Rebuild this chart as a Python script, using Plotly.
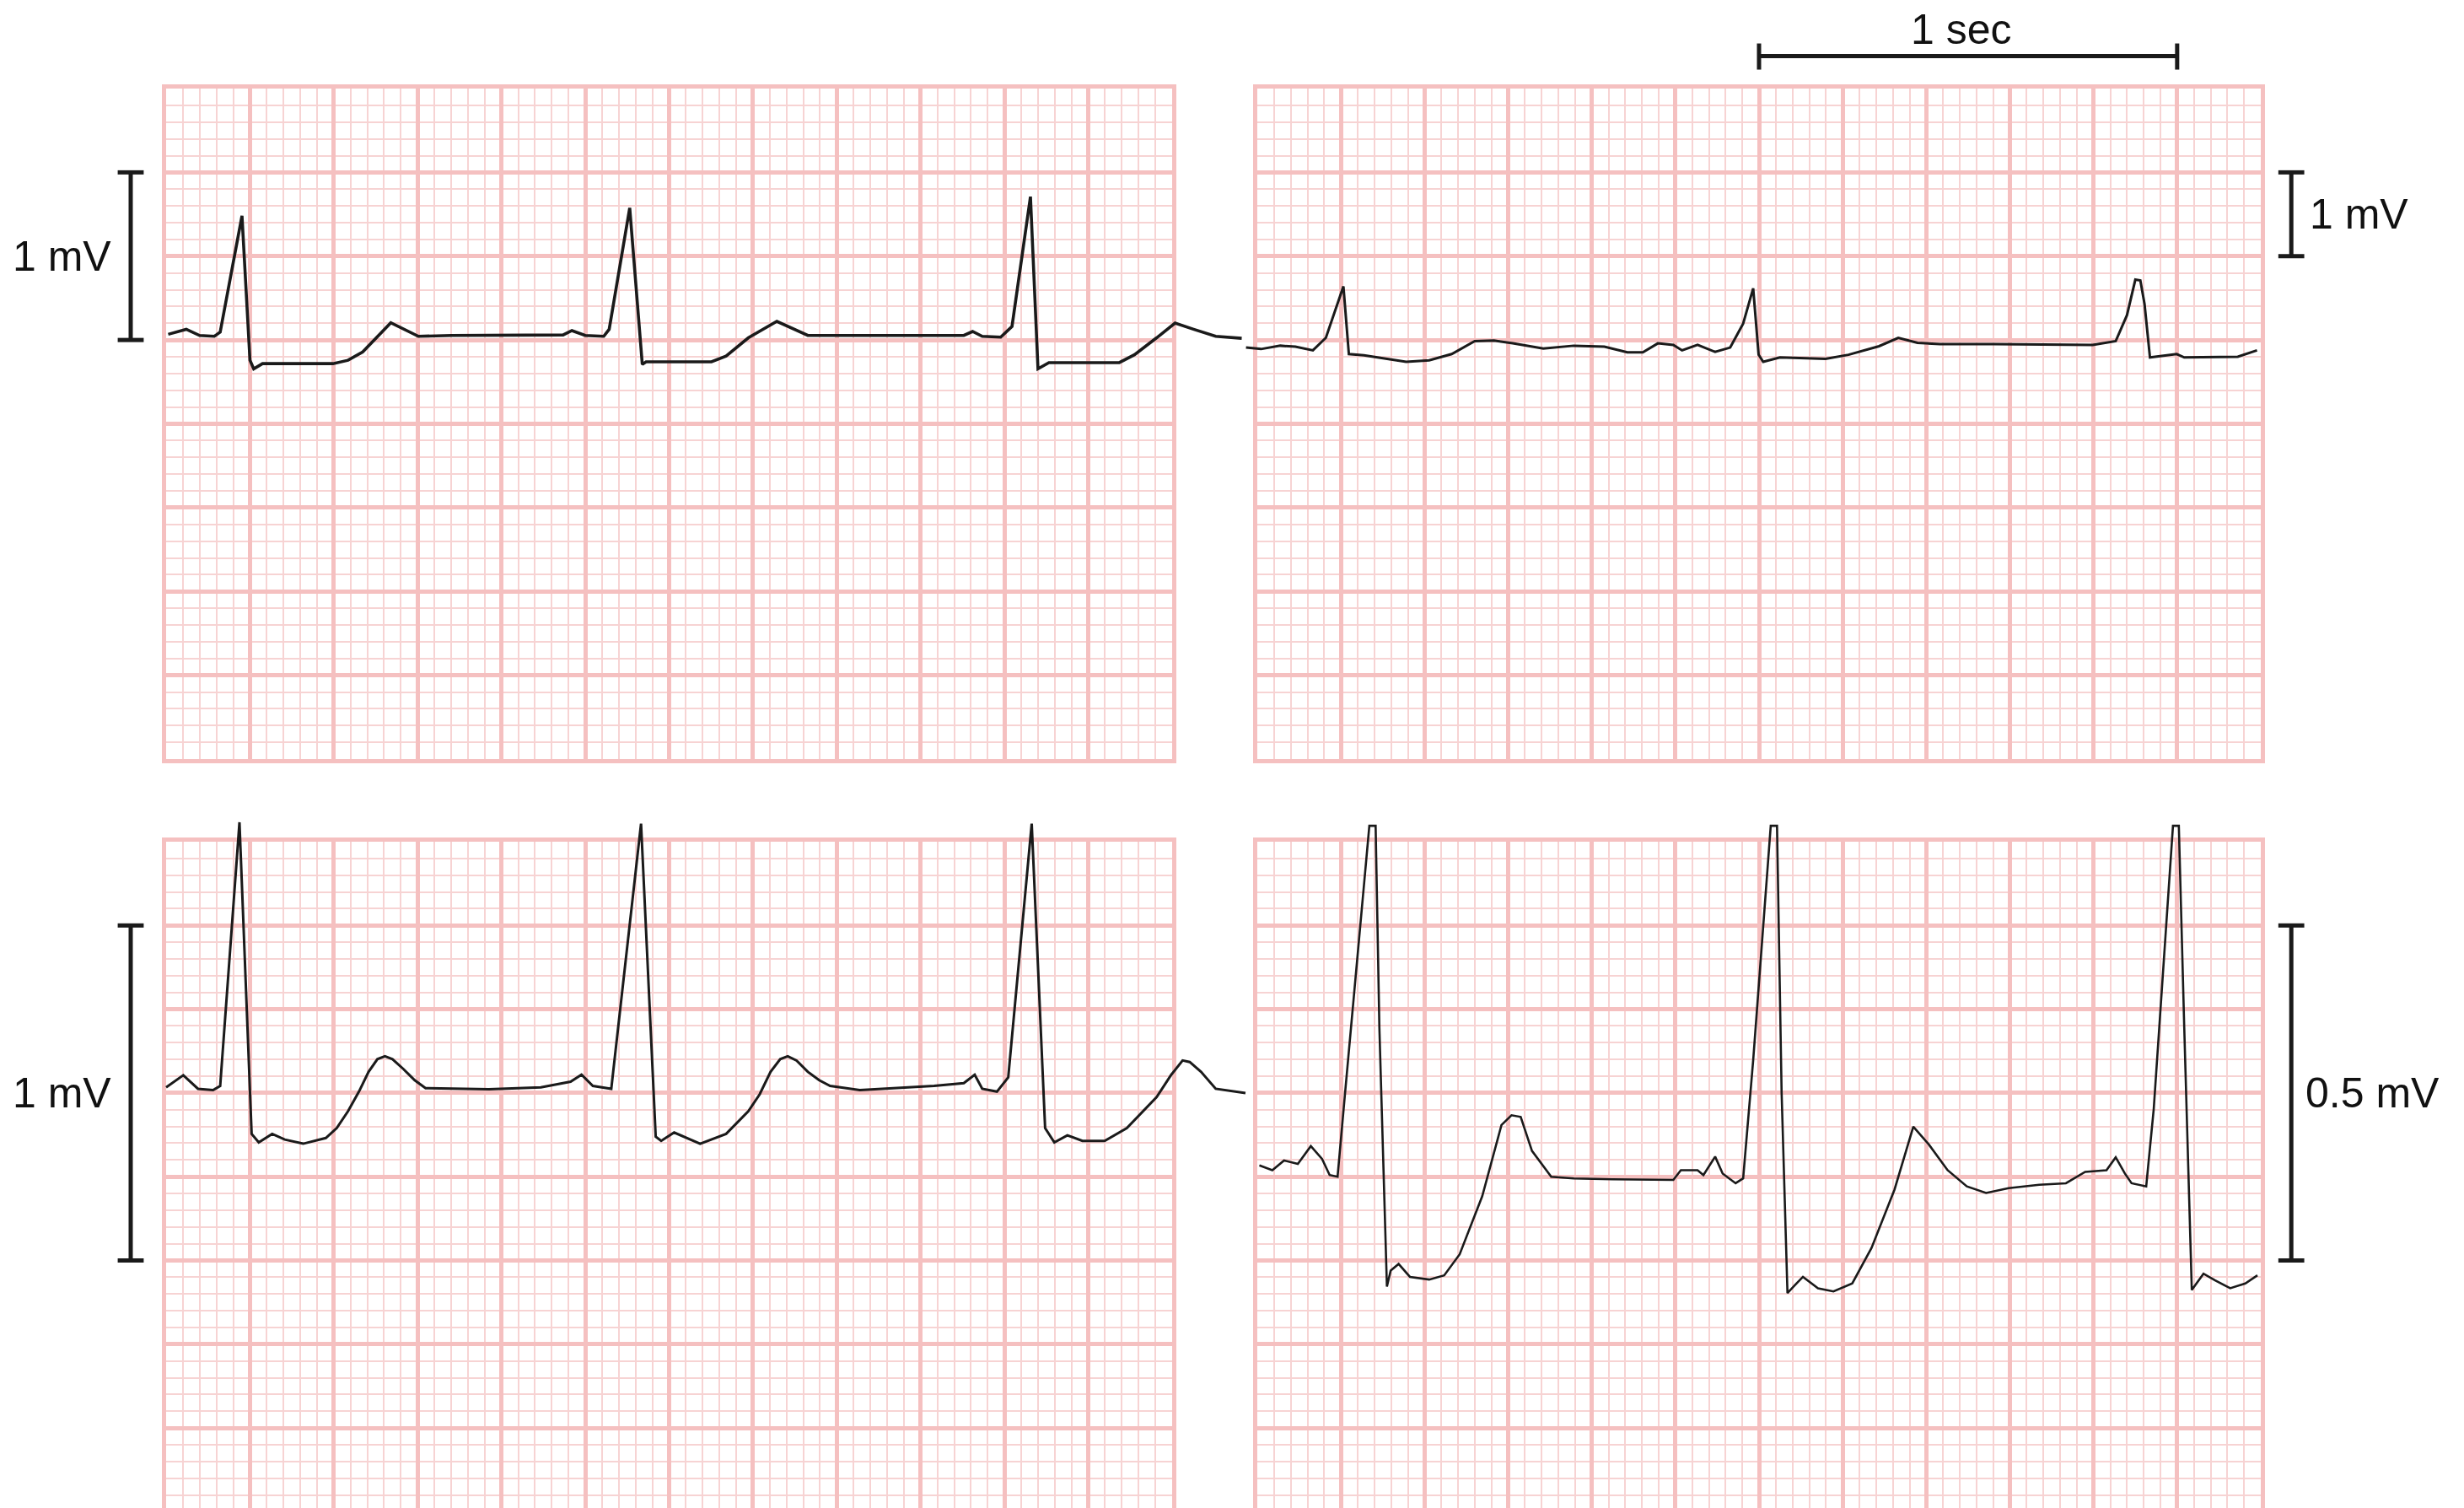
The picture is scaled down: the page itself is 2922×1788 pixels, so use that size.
import plotly.graph_objects as go

W, H = 2922, 1788
OFF = 8      # the page body margin shifts the plot div by this many pixels
SEC = 2.4    # seconds across one strip
MM = 40      # strip height in mm of paper

MAJOR = "#F5C0C0"
MINOR = "#F7D3D3"
INK = "#1a1a1a"
FONT = "Liberation Sans, Arial, sans-serif"

# strip edges in screen pixels: left, right, top, bottom
tl_box = (197, 1390, 105, 900)
tr_box = (1491, 2681, 105, 900)
bl_box = (197, 1390, 998, 1792.4)
br_box = (1491, 2681, 998, 1792.4)

# traces: time in seconds from strip start, deflection in mm from strip bottom
tl_t = [0.005, 0.048, 0.080, 0.115, 0.129, 0.181, 0.200, 0.209, 0.230, 0.398, 0.434, 0.469,
        0.536, 0.602, 0.681, 0.947, 0.968, 1.000, 1.044, 1.057, 1.106, 1.136, 1.145, 1.301,
        1.336, 1.389, 1.457, 1.531, 1.903, 1.924, 1.947, 1.991, 2.018, 2.062, 2.080, 2.106,
        2.274, 2.310, 2.363, 2.407, 2.451, 2.504, 2.566]
tl_mm = [25.34, 25.64, 25.27, 25.22, 25.47, 32.41, 23.79, 23.28, 23.59, 23.59, 23.79, 24.29,
         26.03, 25.22, 25.27, 25.30, 25.56, 25.27, 25.22, 25.64, 32.88, 23.54, 23.70, 23.70,
         24.04, 25.13, 26.11, 25.27, 25.27, 25.51, 25.22, 25.17, 25.81, 33.55, 23.28, 23.65,
         23.65, 24.12, 25.13, 26.01, 25.64, 25.22, 25.10]

tr_t = [-0.027, 0.009, 0.055, 0.091, 0.133, 0.164, 0.206, 0.219, 0.255, 0.301, 0.356, 0.411,
        0.465, 0.520, 0.566, 0.611, 0.684, 0.757, 0.830, 0.885, 0.922, 0.958, 0.995, 1.016,
        1.053, 1.095, 1.131, 1.162, 1.186, 1.199, 1.210, 1.250, 1.359, 1.414, 1.487, 1.533,
        1.579, 1.633, 1.761, 1.998, 2.053, 2.080, 2.100, 2.112, 2.122, 2.135, 2.181, 2.199,
        2.217, 2.345, 2.391]
tr_mm = [24.55, 24.46, 24.66, 24.60, 24.38, 25.13, 28.20, 24.16, 24.09, 23.92, 23.70, 23.79,
         24.16, 24.93, 24.97, 24.80, 24.49, 24.66, 24.60, 24.26, 24.26, 24.80, 24.71, 24.38,
         24.71, 24.29, 24.55, 25.98, 28.08, 24.12, 23.70, 23.96, 23.87, 24.12, 24.63, 25.13,
         24.83, 24.76, 24.76, 24.71, 24.93, 26.48, 28.60, 28.55, 27.15, 23.96, 24.09, 24.16,
         23.96, 24.00, 24.38]

bl_t = [0.000, 0.041, 0.076, 0.112, 0.129, 0.175, 0.204, 0.221, 0.253, 0.283, 0.327, 0.381,
        0.407, 0.434, 0.460, 0.483, 0.504, 0.522, 0.540, 0.566, 0.593, 0.619, 0.770, 0.894,
        0.965, 0.991, 1.018, 1.062, 1.133, 1.168, 1.181, 1.212, 1.274, 1.336, 1.389, 1.416,
        1.442, 1.465, 1.483, 1.504, 1.531, 1.558, 1.584, 1.655, 1.832, 1.903, 1.929, 1.947,
        1.982, 2.009, 2.065, 2.097, 2.119, 2.150, 2.186, 2.239, 2.292, 2.363, 2.398, 2.425,
        2.442, 2.469, 2.504, 2.575]
bl_mm = [25.34, 26.06, 25.25, 25.17, 25.42, 41.16, 22.56, 22.05, 22.56, 22.22, 21.97, 22.31,
         22.90, 23.91, 25.08, 26.26, 27.02, 27.19, 27.02, 26.43, 25.76, 25.29, 25.22, 25.34,
         25.67, 26.09, 25.42, 25.25, 41.08, 22.39, 22.14, 22.64, 21.97, 22.56, 23.91, 24.92,
         26.26, 27.02, 27.19, 26.94, 26.26, 25.76, 25.42, 25.17, 25.42, 25.59, 26.09, 25.25,
         25.08, 25.93, 41.08, 22.90, 22.05, 22.47, 22.14, 22.14, 22.90, 24.75, 26.09, 26.94,
         26.85, 26.26, 25.25, 25.00]

br_t = [0.005, 0.036, 0.064, 0.097, 0.128, 0.155, 0.173, 0.192, 0.210, 0.268, 0.283, 0.292,
        0.310, 0.319, 0.338, 0.365, 0.411, 0.447, 0.484, 0.538, 0.584, 0.608, 0.630, 0.657,
        0.703, 0.757, 0.849, 0.995, 1.013, 1.053, 1.067, 1.095, 1.113, 1.144, 1.162, 1.186,
        1.228, 1.243, 1.254, 1.268, 1.286, 1.305, 1.341, 1.378, 1.423, 1.469, 1.524, 1.569,
        1.606, 1.651, 1.697, 1.743, 1.797, 1.870, 1.934, 1.980, 2.031, 2.053, 2.075, 2.091,
        2.126, 2.144, 2.190, 2.204, 2.217, 2.235, 2.263, 2.290, 2.327, 2.363, 2.392]
br_mm = [20.68, 20.39, 20.97, 20.77, 21.83, 21.06, 20.10, 20.00, 25.02, 40.95, 40.95, 28.88,
         13.44, 14.40, 14.79, 14.02, 13.86, 14.11, 15.37, 18.84, 23.09, 23.67, 23.57, 21.54,
         20.00, 19.90, 19.85, 19.81, 20.39, 20.39, 20.10, 21.20, 20.19, 19.61, 19.90, 26.95,
         40.95, 40.95, 25.02, 13.05, 13.53, 14.02, 13.34, 13.15, 13.63, 15.75, 19.23, 22.99,
         21.93, 20.39, 19.42, 19.03, 19.32, 19.52, 19.61, 20.29, 20.39, 21.16, 20.19, 19.61,
         19.42, 24.05, 40.95, 40.95, 28.88, 13.24, 14.21, 13.82, 13.34, 13.63, 14.11]

fig = go.Figure()
layout = {}


def sid(n):
    return "" if n == 1 else str(n)


def add_strip(i, box, t, mm, lw, top_border=True):
    x0, x1, y0, y1 = [v - OFF for v in box]
    ppx = (x1 - x0) / SEC
    ppy = (y1 - y0) / MM
    yb = min(y1, H)
    # grid paper
    layout["xaxis" + sid(i)] = dict(
        domain=[x0 / W, x1 / W], range=[0, SEC], anchor="y" + sid(i),
        tick0=0, dtick=0.2, showgrid=True, gridcolor=MAJOR, gridwidth=5,
        minor=dict(tick0=0, dtick=0.04, showgrid=True, gridcolor=MINOR, gridwidth=2),
        showticklabels=False, ticks="", zeroline=False,
        showline=True, linecolor=MAJOR, linewidth=5, mirror=top_border,
        side="bottom" if top_border else "top")
    layout["yaxis" + sid(i)] = dict(
        domain=[1 - yb / H, 1 - y0 / H], range=[MM - (yb - y0) / ppy, MM],
        anchor="x" + sid(i), tick0=0, dtick=5, showgrid=True, gridcolor=MAJOR, gridwidth=5,
        minor=dict(tick0=0, dtick=1, showgrid=True, gridcolor=MINOR, gridwidth=2),
        showticklabels=False, ticks="", zeroline=False,
        showline=True, linecolor=MAJOR, linewidth=5, mirror=True)
    # empty trace so the paper subplot is always built
    fig.add_trace(go.Scatter(x=[None], y=[None], mode="lines", xaxis="x" + sid(i),
                             yaxis="y" + sid(i), hoverinfo="skip"))
    # trace axes span the whole picture so spikes are not clipped at the strip edge
    j = i + 4
    layout[f"xaxis{j}"] = dict(domain=[0, 1], range=[-x0 / ppx, (W - x0) / ppx],
                               anchor=f"y{j}", visible=False)
    layout[f"yaxis{j}"] = dict(domain=[0, 1], range=[MM - (H - y0) / ppy, MM + y0 / ppy],
                               anchor=f"x{j}", visible=False)
    fig.add_trace(go.Scatter(x=t, y=mm, mode="lines", xaxis=f"x{j}", yaxis=f"y{j}",
                             line=dict(color=INK, width=lw), hoverinfo="skip"))
    return j


def cal_bar(j, x, ya, yb, half=0.031):
    ref = dict(xref=f"x{j}", yref=f"y{j}", line=dict(color=INK, width=5))
    fig.add_shape(type="line", x0=x, x1=x, y0=ya, y1=yb, **ref)
    for y in (ya, yb):
        fig.add_shape(type="line", x0=x - half, x1=x + half, y0=y, y1=y, **ref)


def label(j, x, y, text, anchor):
    fig.add_annotation(x=x, y=y, xref=f"x{j}", yref=f"y{j}", text=text, showarrow=False,
                       xanchor=anchor, yanchor="middle", borderpad=0,
                       font=dict(family=FONT, size=50, color="#111111"))


a = add_strip(1, tl_box, tl_t, tl_mm, 3.6)
b = add_strip(2, tr_box, tr_t, tr_mm, 3.0)
c = add_strip(3, bl_box, bl_t, bl_mm, 3.0, top_border=False)
d = add_strip(4, br_box, br_t, br_mm, 2.6, top_border=False)

# calibration bars
cal_bar(a, -0.0845, 35, 25)
label(a, -0.128, 30, "1 mV", "right")
cal_bar(c, -0.0845, 35, 15)
label(c, -0.128, 25, "1 mV", "right")
cal_bar(b, 2.473, 35, 30)
label(b, 2.515, 32.5, "1 mV", "left")
cal_bar(d, 2.473, 35, 15)
label(d, 2.505, 25, "0.5 mV", "left")

# time scale bar
ref = dict(xref=f"x{b}", yref=f"y{b}", line=dict(color=INK, width=5))
fig.add_shape(type="line", x0=1.2, x1=2.2, y0=41.94, y1=41.94, **ref)
for x in (1.2, 2.2):
    fig.add_shape(type="line", x0=x, x1=x, y0=41.13, y1=42.69, **ref)
label(b, 1.684, 43.5, "1 sec", "center")

fig.update_layout(
    width=W, height=H,
    margin=dict(l=0, r=0, t=0, b=0),
    paper_bgcolor="white",
    plot_bgcolor="rgba(0,0,0,0)",
    showlegend=False,
    **layout,
)

fig.write_html("out.html")
